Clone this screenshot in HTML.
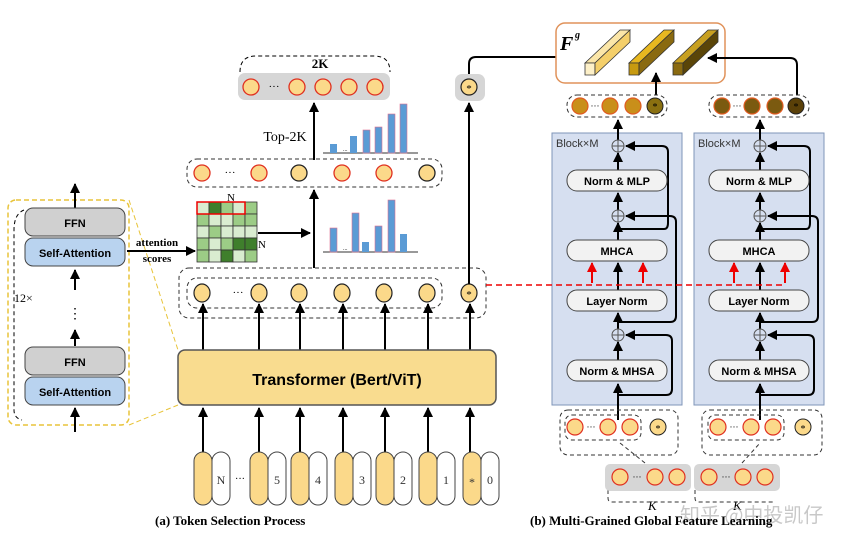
<!DOCTYPE html>
<html><head><meta charset="utf-8"><style>body{margin:0;background:#fff}svg{display:block}
.s{font-family:"Liberation Sans",sans-serif;font-weight:bold}
.r{font-family:"Liberation Serif",serif}</style></head><body>
<svg width="853" height="542" viewBox="0 0 853 542" xmlns="http://www.w3.org/2000/svg">
<defs>
<marker id="a" viewBox="0 0 10 10" refX="9" refY="5" markerWidth="5" markerHeight="5" orient="auto"><path d="M0,0L10,5L0,10z" fill="#000"/></marker>
<marker id="ar" viewBox="0 0 10 10" refX="9" refY="5" markerWidth="5" markerHeight="5" orient="auto"><path d="M0,0L10,5L0,10z" fill="#e00"/></marker>
</defs>
<rect x="8" y="200" width="121" height="225" rx="8" fill="none" stroke="#e8c43a" stroke-width="1.5" stroke-dasharray="5,3"/>
<path d="M24,210 Q14,214 14,230 L14,410 Q14,418 22,420" fill="none" stroke="#000" stroke-dasharray="4,3"/>
<line x1="75" y1="208" x2="75" y2="184" stroke="#000" stroke-width="2" marker-end="url(#a)"/>
<rect x="25" y="208" width="100" height="28" rx="8" fill="#d0d0d0" stroke="#444"/>
<text x="75" y="227" class="s" font-size="11" text-anchor="middle">FFN</text>
<rect x="25" y="238" width="100" height="28" rx="8" fill="#b9d3ef" stroke="#444"/>
<text x="75" y="257" class="s" font-size="11" text-anchor="middle">Self-Attention</text>
<line x1="75" y1="290" x2="75" y2="270" stroke="#000" stroke-width="2" marker-end="url(#a)"/>
<text x="75" y="318" font-size="14" text-anchor="middle">⋮</text>
<text x="14" y="302" class="r" font-size="12">12×</text>
<line x1="75" y1="346" x2="75" y2="330" stroke="#000" stroke-width="2" marker-end="url(#a)"/>
<rect x="25" y="347" width="100" height="28" rx="8" fill="#d0d0d0" stroke="#444"/>
<text x="75" y="366" class="s" font-size="11" text-anchor="middle">FFN</text>
<rect x="25" y="377" width="100" height="28" rx="8" fill="#b9d3ef" stroke="#444"/>
<text x="75" y="396" class="s" font-size="11" text-anchor="middle">Self-Attention</text>
<line x1="75" y1="432" x2="75" y2="408" stroke="#000" stroke-width="2" marker-end="url(#a)"/>
<line x1="129" y1="200" x2="178" y2="350" stroke="#e8c43a" stroke-dasharray="5,3"/>
<line x1="129" y1="425" x2="178" y2="405" stroke="#e8c43a" stroke-dasharray="5,3"/>
<line x1="127" y1="251" x2="195" y2="251" stroke="#000" stroke-width="2" marker-end="url(#a)"/>
<text x="157" y="246" class="r" font-weight="bold" font-size="11" text-anchor="middle">attention</text>
<text x="157" y="262" class="r" font-weight="bold" font-size="11" text-anchor="middle">scores</text>
<g stroke="#333" stroke-width="0.8">
<rect x="197" y="202" width="12" height="12" fill="#d9ecd0"/><rect x="209" y="202" width="12" height="12" fill="#3f7f2c"/><rect x="221" y="202" width="12" height="12" fill="#9ccc86"/><rect x="233" y="202" width="12" height="12" fill="#d9ecd0"/><rect x="245" y="202" width="12" height="12" fill="#9ccc86"/>
<rect x="197" y="214" width="12" height="12" fill="#9ccc86"/><rect x="209" y="214" width="12" height="12" fill="#d9ecd0"/><rect x="221" y="214" width="12" height="12" fill="#d9ecd0"/><rect x="233" y="214" width="12" height="12" fill="#9ccc86"/><rect x="245" y="214" width="12" height="12" fill="#9ccc86"/>
<rect x="197" y="226" width="12" height="12" fill="#d9ecd0"/><rect x="209" y="226" width="12" height="12" fill="#9ccc86"/><rect x="221" y="226" width="12" height="12" fill="#d9ecd0"/><rect x="233" y="226" width="12" height="12" fill="#d9ecd0"/><rect x="245" y="226" width="12" height="12" fill="#d9ecd0"/>
<rect x="197" y="238" width="12" height="12" fill="#9ccc86"/><rect x="209" y="238" width="12" height="12" fill="#d9ecd0"/><rect x="221" y="238" width="12" height="12" fill="#9ccc86"/><rect x="233" y="238" width="12" height="12" fill="#3f7f2c"/><rect x="245" y="238" width="12" height="12" fill="#3f7f2c"/>
<rect x="197" y="250" width="12" height="12" fill="#9ccc86"/><rect x="209" y="250" width="12" height="12" fill="#d9ecd0"/><rect x="221" y="250" width="12" height="12" fill="#3f7f2c"/><rect x="233" y="250" width="12" height="12" fill="#d9ecd0"/><rect x="245" y="250" width="12" height="12" fill="#9ccc86"/>
</g>
<rect x="197" y="202" width="48" height="12" fill="none" stroke="#e00" stroke-width="1.5"/>
<text x="231" y="201" class="r" font-size="11" text-anchor="middle">N</text>
<text x="258" y="248" class="r" font-size="11">N</text>
<line x1="258" y1="233" x2="310" y2="233" stroke="#000" stroke-width="2" marker-end="url(#a)"/>
<g fill="#5b9bd5">
<line x1="323" y1="252" x2="418" y2="252" stroke="#333"/>
<rect x="330" y="228" width="7" height="24" stroke="#e07090" stroke-width=".6"/><rect x="352" y="213" width="7" height="39" stroke="#e07090" stroke-width=".6"/><rect x="362" y="242" width="7" height="10"/><rect x="375" y="226" width="7" height="26" stroke="#e07090" stroke-width=".6"/><rect x="388" y="200" width="7" height="52" stroke="#e07090" stroke-width=".6"/><rect x="400" y="234" width="7" height="18"/>
<line x1="323" y1="153" x2="418" y2="153" stroke="#333"/>
<rect x="330" y="144" width="7" height="9"/><rect x="350" y="136" width="7" height="17"/><rect x="363" y="130" width="7" height="23" stroke="#e07090" stroke-width=".6"/><rect x="375" y="127" width="7" height="26" stroke="#e07090" stroke-width=".6"/><rect x="388" y="114" width="7" height="39" stroke="#e07090" stroke-width=".6"/><rect x="400" y="104" width="7" height="49" stroke="#e07090" stroke-width=".6"/>
</g>
<text x="343" y="250" font-size="6">...</text><text x="343" y="151" font-size="6">...</text>
<path d="M240,72 Q240,56 256,56 L374,56 Q390,56 390,72" fill="none" stroke="#000" stroke-dasharray="4,3"/>
<text x="320" y="68" class="r" font-weight="bold" font-size="13" text-anchor="middle">2K</text>
<rect x="238" y="73" width="152" height="27" rx="7" fill="#d6d6d6"/>
<g fill="#fbd98a" stroke="#e03020" stroke-width="1.3">
<circle cx="251" cy="87" r="8"/><circle cx="297" cy="87" r="8"/><circle cx="323" cy="87" r="8"/><circle cx="349" cy="87" r="8"/><circle cx="375" cy="87" r="8"/></g>
<text x="274" y="90" font-size="11" text-anchor="middle">···</text>
<line x1="314" y1="160" x2="314" y2="103" stroke="#000" stroke-width="2" marker-end="url(#a)"/>
<text x="285" y="141" class="r" font-size="14" text-anchor="middle">Top-2K</text>
<rect x="187" y="159" width="255" height="28" rx="10" fill="none" stroke="#333" stroke-dasharray="4,3"/>
<g fill="#fbd98a" stroke-width="1.3">
<circle cx="202" cy="173" r="8" stroke="#e03020"/><circle cx="259" cy="173" r="8" stroke="#e03020"/><circle cx="299" cy="173" r="8" stroke="#222"/><circle cx="342" cy="173" r="8" stroke="#e03020"/><circle cx="384" cy="173" r="8" stroke="#e03020"/><circle cx="427" cy="173" r="8" stroke="#222"/></g>
<text x="230" y="176" font-size="11" text-anchor="middle">···</text>
<line x1="314" y1="268" x2="314" y2="190" stroke="#000" stroke-width="2" marker-end="url(#a)"/>
<rect x="179" y="268" width="307" height="50" rx="10" fill="none" stroke="#333" stroke-dasharray="4,3"/>
<rect x="187" y="278" width="255" height="30" rx="10" fill="none" stroke="#333" stroke-dasharray="4,3"/>
<g fill="#fbd98a" stroke="#222" stroke-width="1.2">
<ellipse cx="202" cy="293" rx="8" ry="9"/><ellipse cx="259" cy="293" rx="8" ry="9"/><ellipse cx="299" cy="293" rx="8" ry="9"/><ellipse cx="342" cy="293" rx="8" ry="9"/><ellipse cx="384" cy="293" rx="8" ry="9"/><ellipse cx="427" cy="293" rx="8" ry="9"/><ellipse cx="469" cy="293" rx="8" ry="9"/></g>
<text x="469" y="298" font-size="11" text-anchor="middle">*</text>
<text x="238" y="296" font-size="11" text-anchor="middle">···</text>
<line x1="469" y1="284" x2="469" y2="103" stroke="#000" stroke-width="2" marker-end="url(#a)"/>
<rect x="455" y="74" width="30" height="27" rx="7" fill="#d6d6d6"/>
<circle cx="469" cy="87" r="8" fill="#fbd98a" stroke="#222" stroke-width="1.2"/><text x="469" y="92" font-size="11" text-anchor="middle">*</text>
<path d="M469,74 L469,64 Q469,57 476,57 L573,57" fill="none" stroke="#000" stroke-width="2" marker-end="url(#a)"/>
<g stroke="#000" stroke-width="2" marker-end="url(#a)">
<line x1="203" y1="350" x2="203" y2="304"/><line x1="259" y1="350" x2="259" y2="304"/><line x1="300" y1="350" x2="300" y2="304"/><line x1="343" y1="350" x2="343" y2="304"/><line x1="385" y1="350" x2="385" y2="304"/><line x1="428" y1="350" x2="428" y2="304"/><line x1="470" y1="350" x2="470" y2="304"/>
<line x1="203" y1="452" x2="203" y2="408"/><line x1="259" y1="452" x2="259" y2="408"/><line x1="300" y1="452" x2="300" y2="408"/><line x1="343" y1="452" x2="343" y2="408"/><line x1="385" y1="452" x2="385" y2="408"/><line x1="428" y1="452" x2="428" y2="408"/><line x1="470" y1="452" x2="470" y2="408"/>
</g>
<rect x="178" y="350" width="318" height="55" rx="7" fill="#f9dc8f" stroke="#555" stroke-width="1.5"/>
<text x="337" y="385" class="s" font-size="16" text-anchor="middle">Transformer (Bert/ViT)</text>
<g stroke="#444" stroke-width="1">
<g fill="#fbd98a"><rect x="194" y="452" width="18" height="53" rx="9"/><rect x="250" y="452" width="18" height="53" rx="9"/><rect x="291" y="452" width="18" height="53" rx="9"/><rect x="335" y="452" width="18" height="53" rx="9"/><rect x="376" y="452" width="18" height="53" rx="9"/><rect x="419" y="452" width="18" height="53" rx="9"/><rect x="463" y="452" width="18" height="53" rx="9"/></g>
<g fill="#fff"><rect x="212" y="452" width="18" height="53" rx="9"/><rect x="268" y="452" width="18" height="53" rx="9"/><rect x="309" y="452" width="18" height="53" rx="9"/><rect x="353" y="452" width="18" height="53" rx="9"/><rect x="394" y="452" width="18" height="53" rx="9"/><rect x="437" y="452" width="18" height="53" rx="9"/><rect x="481" y="452" width="18" height="53" rx="9"/></g>
</g>
<g class="r" font-size="12" text-anchor="middle" fill="#333"><text x="221" y="484">N</text><text x="277" y="484">5</text><text x="318" y="484">4</text><text x="362" y="484">3</text><text x="403" y="484">2</text><text x="446" y="484">1</text><text x="490" y="484">0</text><text x="472" y="486">*</text></g>
<text x="240" y="482" font-size="10" text-anchor="middle">···</text>
<rect x="556" y="23" width="169" height="60" rx="9" fill="#fff" stroke="#e0925a" stroke-width="1.5"/>
<text x="560" y="50" class="r" font-weight="bold" font-style="italic" font-size="20">F</text><text x="575" y="38" class="r" font-weight="bold" font-style="italic" font-size="10">g</text>
<g stroke="#333" stroke-width=".8">
<path d="M585,63 L620,30 L630,30 L595,63z" fill="#fbe6a8"/><path d="M585,63 h10 v12 h-10z" fill="#fdf0c8"/><path d="M595,63 L630,30 v12 L595,75z" fill="#f4cf6a"/>
<path d="M629,63 L664,30 L674,30 L639,63z" fill="#e8b820"/><path d="M629,63 h10 v12 h-10z" fill="#c79a10"/><path d="M639,63 L674,30 v12 L639,75z" fill="#8a6a10"/>
<path d="M673,63 L708,30 L718,30 L683,63z" fill="#c8a020"/><path d="M673,63 h10 v12 h-10z" fill="#8a6a10"/><path d="M683,63 L718,30 v12 L683,75z" fill="#5a4508"/>
</g>
<line x1="656" y1="95" x2="656" y2="73" stroke="#000" stroke-width="2" marker-end="url(#a)"/>
<path d="M797,95 L797,65 Q797,58 790,58 L708,58" fill="none" stroke="#000" stroke-width="2" marker-end="url(#a)"/>
<rect x="567" y="95" width="100" height="22" rx="10" fill="none" stroke="#333" stroke-dasharray="4,3"/>
<rect x="709" y="95" width="100" height="22" rx="10" fill="none" stroke="#333" stroke-dasharray="4,3"/>
<g stroke="#e05a20" stroke-width="1.2"><circle cx="580" cy="106" r="8" fill="#c98f1a"/><circle cx="610" cy="106" r="8" fill="#c98f1a"/><circle cx="633" cy="106" r="8" fill="#c98f1a"/>
<circle cx="722" cy="106" r="8" fill="#7b5a10"/><circle cx="752" cy="106" r="8" fill="#7b5a10"/><circle cx="775" cy="106" r="8" fill="#7b5a10"/></g>
<circle cx="655" cy="106" r="8" fill="#8a7010" stroke="#222"/><circle cx="796" cy="106" r="8" fill="#5a4008" stroke="#222"/>
<text x="655" y="110" font-size="10" text-anchor="middle">*</text><text x="796" y="110" font-size="10" text-anchor="middle">*</text>
<text x="595" y="109" font-size="9" text-anchor="middle">···</text><text x="737" y="109" font-size="9" text-anchor="middle">···</text>
<g id="blk">
<rect x="552" y="133" width="130" height="272" fill="#d6dff0" stroke="#7f95b8"/>
<text x="556" y="147" font-family="Liberation Sans,sans-serif" font-size="11" fill="#333">Block×M</text>
<g stroke="#000" stroke-width="2" fill="none">
<line x1="618" y1="420" x2="618" y2="384" marker-end="url(#a)"/>
<line x1="618" y1="360" x2="618" y2="342" marker-end="url(#a)"/>
<line x1="618" y1="329" x2="618" y2="313" marker-end="url(#a)"/>
<line x1="618" y1="290" x2="618" y2="263" marker-end="url(#a)"/>
<line x1="618" y1="240" x2="618" y2="223" marker-end="url(#a)"/>
<line x1="618" y1="210" x2="618" y2="193" marker-end="url(#a)"/>
<line x1="618" y1="170" x2="618" y2="153" marker-end="url(#a)"/>
<line x1="618" y1="140" x2="618" y2="120" marker-end="url(#a)"/>
<path d="M618,395 L666,395 Q672,395 672,389 L672,341 Q672,335 666,335 L626,335" marker-end="url(#a)"/>
<path d="M618,322 L670,322 Q676,322 676,316 L676,222 Q676,216 670,216 L626,216" marker-end="url(#a)"/>
<path d="M618,229 L664,229 Q668,229 668,223 L668,152 Q668,146 662,146 L626,146" marker-end="url(#a)"/>
</g>
<g fill="#d6dff0" stroke="#555"><circle cx="618" cy="146" r="6"/><circle cx="618" cy="216" r="6"/><circle cx="618" cy="335" r="6"/></g>
<path d="M612,146h12M618,140v12M612,216h12M618,210v12M612,335h12M618,329v12" stroke="#555"/>
<g fill="#f2f2f2" stroke="#444"><rect x="567" y="170" width="100" height="21" rx="10"/><rect x="567" y="240" width="100" height="21" rx="10"/><rect x="567" y="290" width="100" height="21" rx="10"/><rect x="567" y="360" width="100" height="21" rx="10"/></g>
<g class="s" font-size="11" text-anchor="middle"><text x="617" y="185">Norm &amp; MLP</text><text x="617" y="255">MHCA</text><text x="617" y="305">Layer Norm</text><text x="617" y="375">Norm &amp; MHSA</text></g>
<g stroke="#e00" stroke-width="2" marker-end="url(#ar)"><line x1="592" y1="283" x2="592" y2="263"/><line x1="643" y1="283" x2="643" y2="263"/></g>
</g>
<use href="#blk" x="142"/>
<path d="M486,285 L785,285" fill="none" stroke="#e00" stroke-width="1.5" stroke-dasharray="6,4"/>
<g fill="none" stroke="#333" stroke-dasharray="4,3">
<rect x="560" y="410" width="118" height="45" rx="8"/><rect x="565" y="415" width="76" height="25" rx="7"/>
<rect x="702" y="410" width="120" height="45" rx="8"/><rect x="708" y="415" width="76" height="25" rx="7"/>
<line x1="645" y1="463" x2="620" y2="443"/><line x1="742" y1="463" x2="760" y2="443"/>
<path d="M608,490 v8 q0,4 4,4 h74 M695,490 v8 q0,4 4,4 h74"/>
</g>
<rect x="605" y="464" width="86" height="27" rx="5" fill="#d6d6d6"/><rect x="694" y="464" width="86" height="27" rx="5" fill="#d6d6d6"/>
<g fill="#fbd98a" stroke="#e03020" stroke-width="1.2">
<circle cx="575" cy="427" r="8"/><circle cx="608" cy="427" r="8"/><circle cx="630" cy="427" r="8"/>
<circle cx="718" cy="427" r="8"/><circle cx="751" cy="427" r="8"/><circle cx="773" cy="427" r="8"/>
<circle cx="620" cy="477" r="8"/><circle cx="655" cy="477" r="8"/><circle cx="677" cy="477" r="8"/>
<circle cx="709" cy="477" r="8"/><circle cx="743" cy="477" r="8"/><circle cx="765" cy="477" r="8"/></g>
<g fill="#fbd98a" stroke="#222"><circle cx="658" cy="427" r="8"/><circle cx="803" cy="427" r="8"/></g>
<text x="658" y="432" font-size="10" text-anchor="middle">*</text><text x="803" y="432" font-size="10" text-anchor="middle">*</text>
<g font-size="9" text-anchor="middle"><text x="591" y="430">···</text><text x="734" y="430">···</text><text x="637" y="480">···</text><text x="726" y="480">···</text></g>
<text x="648" y="510" class="r" font-style="italic" font-size="13">K</text><text x="733" y="510" class="r" font-style="italic" font-size="13">K</text>
<text x="680" y="522" font-family="Noto Sans CJK SC,sans-serif" font-size="20" fill="#bbb" opacity=".8">知乎 @中投凯仔</text>
<text x="155" y="525" class="r" font-weight="bold" font-size="13">(a) Token Selection Process</text>
<text x="530" y="525" class="r" font-weight="bold" font-size="13">(b) Multi-Grained Global Feature Learning</text>
</svg>
</body></html>
